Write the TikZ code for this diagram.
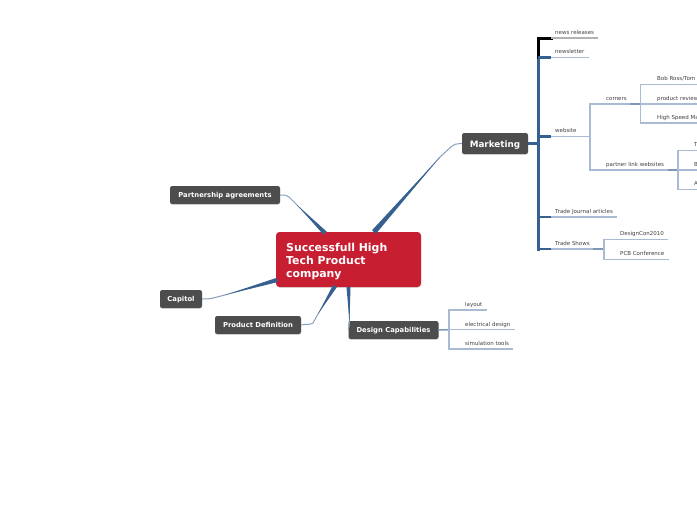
\documentclass[tikz,border=0pt]{standalone}
\usepackage{fontspec}
\setmainfont{DejaVu Sans}
\usetikzlibrary{calc}
\usetikzlibrary{shadows}

\definecolor{rootred}{HTML}{C81E32}
\definecolor{topicgray}{HTML}{4D4D4D}
\definecolor{branchblue}{HTML}{35608F}
\definecolor{twigblue}{HTML}{A9BBD3}

\tikzset{
    topic/.style={rectangle, rounded corners=2.2pt, fill=topicgray, text=white, inner sep=0pt, drop shadow={opacity=0.25, shadow xshift=0pt, shadow yshift=-0.8pt}},
    small topic/.style={topic, minimum height=18pt, text height=6pt, text depth=0.6pt, font=\fontsize{6.8}{8}\selectfont\bfseries},
    leaf/.style={anchor=south west, inner xsep=4pt, inner ysep=2.3pt, text height=4pt, text depth=1.2pt, text=black!75, font=\fontsize{5.5}{6}\selectfont},
    twig/.style={draw=twigblue, line width=1.1pt},
    stub/.style={draw=branchblue, line width=2.2pt},
    knee/.style={draw=branchblue!65, line width=1.5pt},
    thin branch/.style={draw=branchblue!60, line width=1pt},
}

\newcommand{\taper}[3]{\fill[branchblue] ($(#1)!#3!90:(#2)$) -- (#2) -- ($(#1)!#3!-90:(#2)$) -- cycle;}

\begin{document}
\begin{tikzpicture}[x=1pt, y=-1pt]
    \useasboundingbox (0, 0) rectangle (697, 520);

    \coordinate (m1) at (440, 157);
    \coordinate (m0) at (374, 232);
    \coordinate (p1) at (297, 205);
    \coordinate (p0) at (325, 233);
    \coordinate (c1) at (225, 295);
    \coordinate (c0) at (277, 280);
    \coordinate (f1) at (318, 314);
    \coordinate (f0) at (335, 286);
    \coordinate (d1) at (349.5, 322);
    \coordinate (d0) at (348.5, 287);

    \node[topic, rounded corners=3.5pt, fill=rootred, minimum width=145pt, minimum height=55pt] (root) at (348.5, 259.5) {};
    \node[anchor=west, text=white, align=left, inner sep=0pt, font=\fontsize{10.9}{13.4}\selectfont\bfseries] (roottext) at (286, 261.5) {Successfull High\\Tech Product\\company};

    \node[topic, minimum width=66pt, minimum height=21pt, text height=7.5pt, text depth=0.5pt, font=\fontsize{8.8}{10}\selectfont\bfseries] (marketing) at (495, 143.5) {Marketing};
    \node[small topic, minimum width=110pt] (partner) at (225, 195) {Partnership agreements};
    \node[small topic, minimum width=42pt] (capitol) at (181, 299) {Capitol};
    \node[small topic, minimum width=86pt] (product) at (258, 325) {Product Definition};
    \node[small topic, minimum width=90pt] (design) at (393.5, 330) {Design Capabilities};

    \draw[thin branch] (marketing.west) .. controls (456, 144) and (454, 144) .. (452, 146) -- (m1) -- (m0);
    \draw[thin branch] (partner.east) .. controls (285, 195) and (287, 195) .. (289, 197) -- (p1) -- (p0);
    \draw[thin branch] (capitol.east) .. controls (206, 299) and (209, 299) .. (213, 298) -- (c1) -- (c0);
    \draw[thin branch] (product.east) .. controls (306, 324) and (310, 325) .. (313, 323) -- (f1) -- (f0);
    \draw[thin branch] (design.west) .. controls (349, 328) and (349, 326) .. (d1) -- (d0);

    \taper{m0}{m1}{2.6pt}
    \taper{p0}{p1}{2.2pt}
    \taper{c0}{c1}{2.2pt}
    \taper{f0}{f1}{2.2pt}
    \taper{d0}{d1}{2.0pt}

    \node[leaf] (news) at (551, 38) {news releases};
    \node[leaf] (letter) at (551, 57.5) {newsletter};
    \node[leaf] (web) at (551, 136.5) {website};
    \node[leaf] (journal) at (551, 217) {Trade Journal articles};
    \node[leaf] (shows) at (551, 249) {Trade Shows};
    \node[leaf] (corners) at (602, 104) {corners};
    \node[leaf] (links) at (602, 170) {partner link websites};
    \node[leaf] (bob) at (653, 84.5) {Bob Ross/Tom};
    \node[leaf] (review) at (653, 104) {product review};
    \node[leaf] (speed) at (653, 123) {High Speed Ma};
    \node[leaf] (t) at (690, 150.5) {T};
    \node[leaf] (b) at (690, 170) {B};
    \node[leaf] (a) at (690, 189.5) {A};
    \node[leaf] (dcon) at (616, 239.5) {DesignCon2010};
    \node[leaf] (pcb) at (616, 259.5) {PCB Conference};
    \node[leaf] (layout) at (461, 310) {layout};
    \node[leaf] (elec) at (461, 329.7) {electrical design};
    \node[leaf] (sim) at (461, 349) {simulation tools};

    \coordinate (mstem) at (538, 143.5);
    \coordinate (webstem) at (590, 136.5);
    \coordinate (cstem) at (640.5, 104);
    \coordinate (lstem) at (678, 170);
    \coordinate (tstem) at (604, 249);
    \coordinate (dstem) at (449, 329.7);
    \coordinate (edge) at (697, 0);

    % marketing side
    \draw[branchblue, line width=3pt] (marketing.east) -- (mstem);
    \draw[branchblue, line width=3pt, line cap=rect] (mstem |- letter.south) -- (mstem |- shows.south);
    \draw[black, line width=3pt, line cap=rect] (news.south west) -| (mstem |- letter.south);
    \draw[draw=black!30, line width=1.1pt] (news.south west) -- (news.south east);

    \foreach \leafname in {letter, web, journal, shows} {
        \draw[stub] (mstem |- \leafname.south) -- (\leafname.south west);
        \draw[twig] (\leafname.south west) -- (\leafname.south east);
    }
    \draw[twig] (web.south east) -- (webstem);
    \draw[twig] (shows.south east) -- (tstem);
    \draw[knee] (593, 249) -- (tstem);

    % website
    \draw[twig] (corners.south east) -- (corners.south west) -- (webstem |- corners.south) -- (webstem |- links.south) -- (links.south west) -- (links.south east);
    \draw[twig] (corners.south east) -- (cstem);
    \draw[knee] (630, 104) -- (cstem);
    \draw[twig] (links.south east) -- (lstem);
    \draw[knee] (668, 170) -- (lstem);
    \draw[twig] (edge |- bob.south) -- (cstem |- bob.south) -- (cstem |- speed.south) -- (edge |- speed.south);
    \draw[twig] (cstem) -- (edge |- review.south);
    \draw[twig] (edge |- t.south) -- (lstem |- t.south) -- (lstem |- a.south) -- (edge |- a.south);
    \draw[twig] (lstem) -- (edge |- b.south);

    % trade shows
    \draw[twig] (dcon.south east) -- (tstem |- dcon.south) -- (tstem |- pcb.south) -- (pcb.south east);

    % design capabilities
    \draw[knee] (design.east) -- (dstem);
    \draw[twig] (layout.south east) -- (dstem |- layout.south) -- (dstem |- sim.south) -- (sim.south east);
    \draw[twig] (dstem) -- (elec.south east);
\end{tikzpicture}
\end{document}
